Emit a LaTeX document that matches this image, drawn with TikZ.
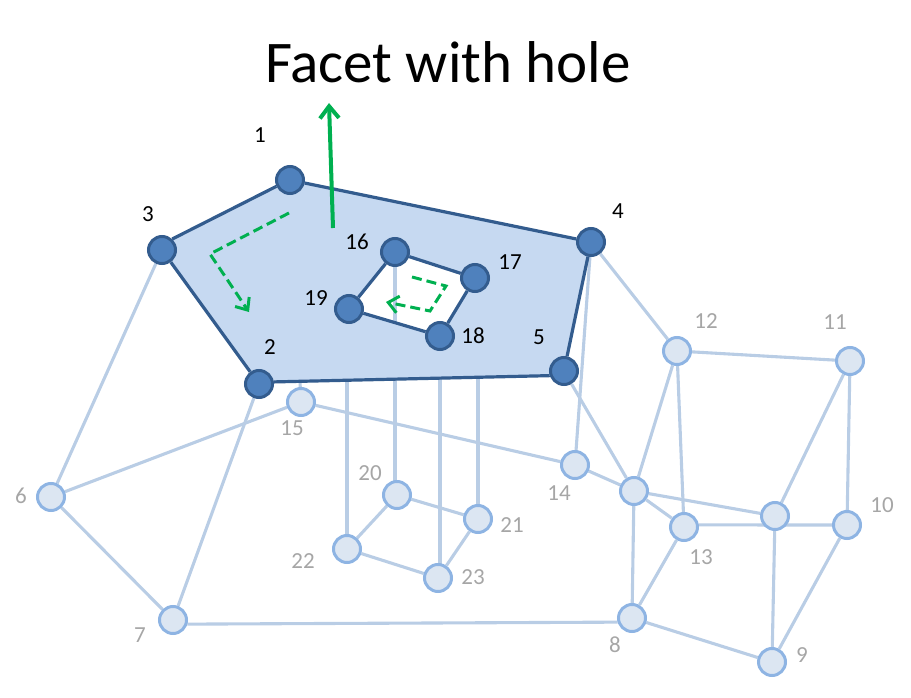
\documentclass[tikz,border=0pt]{standalone}
\usepackage{fontspec}
\setmainfont{Carlito}
\usetikzlibrary{arrows.meta,backgrounds}

\definecolor{faceblue}{HTML}{C6D9F1}
\definecolor{darkline}{HTML}{335C8E}
\definecolor{darkfill}{HTML}{4F81BD}
\definecolor{lightline}{HTML}{8EB4E3}
\definecolor{lightfill}{HTML}{DCE6F2}
\definecolor{edgeblue}{HTML}{B9CDE5}
\definecolor{labelgray}{HTML}{A6A6A6}
\definecolor{normalgreen}{HTML}{00B050}

\tikzset{
  front/.style={circle, draw=darkline, fill=darkfill, line width=3pt, minimum size=27pt, inner sep=0pt},
  back/.style={circle, draw=lightline, fill=lightfill, line width=3pt, minimum size=27pt, inner sep=0pt},
  backedge/.style={draw=edgeblue, line width=3.1pt},
  frontedge/.style={draw=darkline, line width=3.2pt},
  frontlabel/.style={font=\fontsize{23}{25}\selectfont, text=black},
  backlabel/.style={font=\fontsize{23}{25}\selectfont, text=labelgray},
  dir/.style={draw=normalgreen, line width=3pt, dash pattern=on 10pt off 5pt, -{Straight Barb[length=10pt,width=17pt]}},
}

\begin{document}
\begin{tikzpicture}[x=1pt, y=-1pt]
   \useasboundingbox (0,0) rectangle (911,698);

   \node[font=\fontsize{59}{64}\selectfont] (title) at (448,62) {Facet with hole};

   % facet corners
   \foreach \t/\x/\y in {1/290/180, 2/259/384, 3/162/250, 4/591/242, 5/564/371,
                         16/395/252, 17/475/278, 18/440/336, 19/349/309}
     \node[front] (v\t) at (\x,\y) {};

   % the rest of the body, two corners carry no number
   \foreach \t/\x/\y in {6/51/497, 7/173/620, 8/632/618, 9/772/662, 10/847/525,
                         11/850/361, 12/677/351, 13/684/527, 14/575/465, 15/301/402,
                         20/397/495, 21/478/519, 22/347/549, 23/438/578, a/634/491, b/775/516}
     \node[back] (v\t) at (\x,\y) {};

   \foreach \t/\x/\y in {1/260/135, 2/270/347, 3/148/214, 4/618/211, 5/539/337,
                         16/357/242, 17/510/262, 18/473/336, 19/316/298}
     \node[frontlabel] (l\t) at (\x,\y) {\t};

   \foreach \t/\x/\y in {6/21/496, 7/140/635, 8/615/645, 9/802/655, 10/882/505,
                         11/835/322, 12/706/321, 13/701/557, 14/559/493, 15/292/428,
                         20/370/473, 21/512/525, 22/303/561, 23/473/577}
     \node[backlabel] (l\t) at (\x,\y) {\t};

   \begin{pgfonlayer}{background}
     \foreach \i/\j in {3/6, 6/7, 7/2, 6/15, 15/14, 15/1, 4/14, 4/12, 5/a, 12/a, 12/13,
                        12/11, 11/10, 11/b, a/13, a/b, a/8, 14/a, 13.8/10, 13/8, 8/9,
                        b/9, 10/9, 7.344/8.196, 20/21, 20/22, 22/23, 21/23}
       \draw[backedge] (v\i) -- (v\j);
     % these four hang straight down
     \draw[backedge] (v19 -| v22) -- (v22);
     \draw[backedge] (v16) -- (v16 |- v20);
     \draw[backedge] (v18) -- (v18 |- v23);
     \draw[backedge] (v17 -| v21) -- (v21);
     \fill[faceblue, even odd rule] (v1.center) -- (v4.center) -- (v5.center) -- (v5.198) -- (v2.8) -- (v2.center)
        -- (v3.center) -- (v3.47) -- (v1.205) -- cycle
        (v16.center) -- (v17.center) -- (v18.center) -- (v19.center) -- cycle;
   \end{pgfonlayer}

   \foreach \i/\j in {1/4, 4/5, 5.198/2.8, 2/3, 3.47/1.205, 16/17, 17/18, 18/19, 19/16}
     \draw[frontedge] (v\i) -- (v\j);

   % normal and the two loop directions
   \coordinate (nbase) at (333,228);
   \coordinate (ntip) at (329,103);
   \draw[normalgreen, line width=4pt, -{Straight Barb[length=12pt,width=19pt]}] (nbase) -- (ntip);

   \coordinate (o1) at (289,213);
   \coordinate (o2) at (210,254);
   \coordinate (o3) at (249,312);
   \draw[dir] (o1) -- (o2) -- (o3);

   \coordinate (h1) at (412,277);
   \coordinate (h2) at (446,286);
   \coordinate (h3) at (430,311);
   \coordinate (h4) at (386,302);
   \draw[dir] (h1) -- (h2) -- (h3) -- (h4);
\end{tikzpicture}
\end{document}
